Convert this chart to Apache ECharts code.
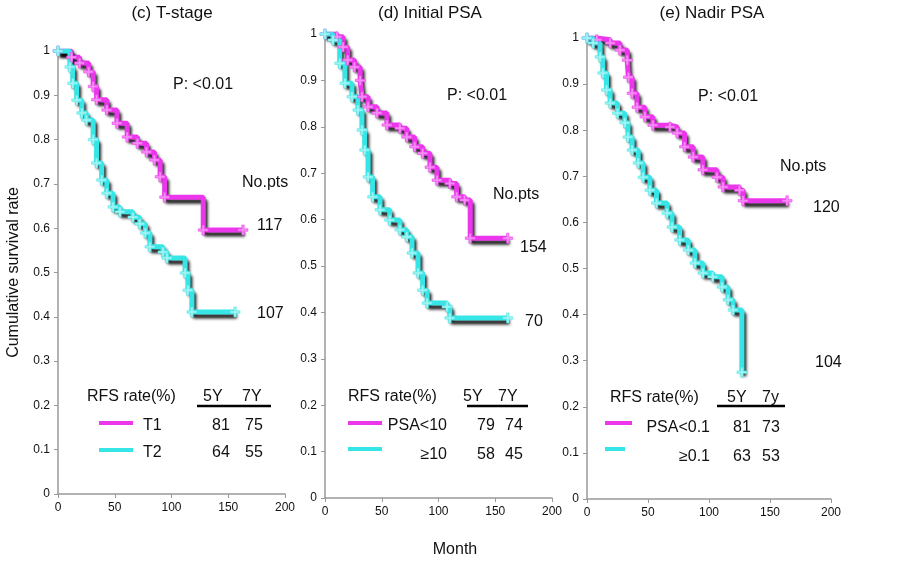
<!DOCTYPE html>
<html>
<head>
<meta charset="utf-8">
<script src="https://cdn.jsdelivr.net/npm/echarts@6/dist/echarts.min.js"></script>
<style>
  html, body { margin: 0; padding: 0; background: #fff; }
  #chart { width: 903px; height: 561px; }
</style>
</head>
<body>
<div id="chart"></div>
<script>
// Kaplan-Meier curves: [month, survival after event at that month]
var tStage1 = [[0,1],[12,0.986],[19,0.973],[27,0.953],[31,0.92],[34,0.89],[43,0.867],[52,0.837],[61,0.806],[70,0.792],[78,0.772],[85,0.754],[90,0.716],[94,0.67],[128,0.596],[163,0.596]];
var tStage2 = [[0,1],[10.5,0.964],[13,0.927],[16.5,0.889],[21,0.86],[25,0.844],[31,0.8],[34,0.747],[38.5,0.709],[43,0.679],[48.5,0.648],[54.6,0.637],[66,0.625],[72,0.61],[77,0.589],[81,0.558],[92.5,0.546],[96,0.533],[112,0.499],[114.5,0.46],[118,0.411],[156,0.411]];
var psaLow = [[0,1],[10.5,0.994],[16,0.972],[20,0.944],[26,0.929],[31,0.9],[32.6,0.865],[38,0.843],[45.8,0.83],[54.6,0.804],[66,0.797],[72,0.778],[79,0.757],[86,0.743],[92.5,0.713],[98.7,0.685],[110,0.678],[116,0.649],[123,0.642],[128,0.56],[161,0.56]];
var psaHigh = [[0,1],[7,0.987],[13,0.937],[17.6,0.894],[23.8,0.865],[29,0.836],[32.6,0.793],[35,0.75],[38,0.692],[42,0.649],[48.5,0.621],[57,0.599],[66,0.578],[72,0.563],[76.7,0.528],[82,0.485],[86,0.448],[90,0.42],[107.5,0.412],[110,0.388],[161,0.388]];
var nadirLow = [[0,1],[8,0.996],[19,0.989],[27,0.974],[33,0.952],[34,0.915],[37,0.88],[41,0.85],[47.5,0.829],[54,0.811],[68,0.807],[74,0.794],[80,0.764],[87,0.742],[95,0.714],[106.5,0.698],[111.5,0.677],[125,0.67],[128,0.647],[164,0.647]];
var nadirHigh = [[0,1],[5,0.989],[10.7,0.959],[13,0.924],[16,0.887],[19,0.859],[25,0.837],[31,0.816],[33.6,0.785],[37,0.757],[42,0.729],[46,0.698],[51.6,0.67],[57,0.642],[65.6,0.62],[69.7,0.59],[76,0.562],[83,0.54],[88.5,0.512],[95,0.49],[103,0.482],[110.7,0.46],[115.6,0.432],[119.7,0.41],[127,0.275]];

var panelTitles = ['(c) T-stage', '(d) Initial PSA', '(e) Nadir PSA'];
var groupLabels = [['T1', 'T2'], ['PSA<10', '≥10'], ['PSA<0.1', '≥0.1']];
var rates5y = [['81', '64'], ['79', '58'], ['81', '63']];
var rates7y = [['75', '55'], ['74', '45'], ['73', '53']];
var patientCounts = [['117', '107'], ['154', '70'], ['120', '104']];
var rateHeaders = [['5Y', '7Y'], ['5Y', '7Y'], ['5Y', '7y']];

var MAGENTA = '#ec36ec';
var CYAN = '#36e6e6';
var FONT = '"Liberation Sans", Arial, sans-serif';

var chart = echarts.init(document.getElementById('chart'));

var grids = [
    { left: 58, top: 51, width: 227, height: 443 },
    { left: 325, top: 34, width: 227, height: 464 },
    { left: 587, top: 38, width: 244, height: 461 }
];

function xAxisFor(i) {
    return {
        type: 'value', gridIndex: i, min: 0, max: 200, interval: 50,
        axisLine: { lineStyle: { color: '#999', width: 1.5 } },
        axisTick: { show: true, length: 4, lineStyle: { color: '#999' } },
        axisLabel: { color: '#111', fontSize: 12, fontFamily: FONT, margin: 8 },
        splitLine: { show: false }
    };
}
function yAxisFor(i) {
    var ax = {
        type: 'value', gridIndex: i, min: 0, max: 1, interval: 0.1,
        axisLine: { show: true, lineStyle: { color: '#999', width: 1.5 } },
        axisTick: { show: true, length: 4, lineStyle: { color: '#999' } },
        axisLabel: { color: '#111', fontSize: 12, fontFamily: FONT, margin: 8,
            formatter: function (v) { return String(Math.round(v * 10) / 10); } },
        splitLine: { show: false }
    };
    if (i === 0) {
        ax.name = 'Cumulative survival rate';
        ax.nameLocation = 'middle';
        ax.nameGap = 36;
        ax.nameTextStyle = { fontSize: 16, color: '#111', fontFamily: FONT };
    }
    return ax;
}

var plusPath = 'path://M3,0h2v3h3v2h-3v3h-2v-3h-3v-2h3z';
function kmSeries(data, i, color, light) {
    return {
        type: 'line', xAxisIndex: i, yAxisIndex: i, step: 'end', data: data,
        symbol: plusPath, symbolSize: 10, showSymbol: true,
        itemStyle: { color: light, borderColor: color, borderWidth: 0.5 },
        lineStyle: { color: color, width: 5, shadowColor: 'rgba(0,0,0,0.85)', shadowBlur: 3, shadowOffsetX: 2, shadowOffsetY: 4 },
        silent: true, animation: false
    };
}

var curves = [[tStage1, tStage2], [psaLow, psaHigh], [nadirLow, nadirHigh]];
var series = [];
curves.forEach(function (pair, i) {
    series.push(kmSeries(pair[0], i, MAGENTA, '#f58cf5'));
    series.push(kmSeries(pair[1], i, CYAN, '#9ef3f3'));
});

// annotation layout per panel
var layout = [
    { title: [172, 13], p: [173, 85], nopts: [242, 183], counts: [[257, 226], [257, 314]],
      rfs: [87, 397], hdr: [203, 242], rule: [197, 271, 406], swatch: [[99, 133, 423], [99, 133, 450]],
      labels: [[143, 426, 'left'], [143, 453, 'left']], rates: [212, 245, [426, 453]] },
    { title: [430, 13], p: [447, 96], nopts: [493, 195], counts: [[520, 248], [525, 322]],
      rfs: [348, 397], hdr: [463, 498], rule: [467, 528, 406], swatch: [[348, 382, 423], [348, 382, 449]],
      labels: [[447, 426, 'right'], [447, 455, 'right']], rates: [477, 505, [426, 455]] },
    { title: [712, 13], p: [698, 97], nopts: [780, 167], counts: [[813, 208], [815, 363]],
      rfs: [610, 398], hdr: [727, 762], rule: [717, 785, 406], swatch: [[605, 632, 423], [605, 625, 449]],
      labels: [[710, 428, 'right'], [710, 457, 'right']], rates: [733, 762, [428, 457]] }
];

function txt(x, y, s, size, align) {
    return { type: 'text', x: x, y: y, silent: true,
        style: { text: s, fill: '#111', font: size + 'px ' + FONT, textAlign: align || 'left', textVerticalAlign: 'middle' } };
}

var graphics = [];
layout.forEach(function (L, i) {
    graphics.push(txt(L.title[0], L.title[1], panelTitles[i], 17, 'center'));
    graphics.push(txt(L.p[0], L.p[1], 'P: <0.01', 16));
    graphics.push(txt(L.nopts[0], L.nopts[1], 'No.pts', 16));
    graphics.push(txt(L.counts[0][0], L.counts[0][1], patientCounts[i][0], 16));
    graphics.push(txt(L.counts[1][0], L.counts[1][1], patientCounts[i][1], 16));
    graphics.push(txt(L.rfs[0], L.rfs[1], 'RFS rate(%)', 16));
    graphics.push(txt(L.hdr[0], L.rfs[1], rateHeaders[i][0], 16));
    graphics.push(txt(L.hdr[1], L.rfs[1], rateHeaders[i][1], 16));
    graphics.push({ type: 'line', silent: true, shape: { x1: L.rule[0], y1: L.rule[2], x2: L.rule[1], y2: L.rule[2] },
        style: { stroke: '#000', lineWidth: 2.5 } });
    [MAGENTA, CYAN].forEach(function (c, k) {
        var sw = L.swatch[k];
        graphics.push({ type: 'line', silent: true, shape: { x1: sw[0], y1: sw[2], x2: sw[1], y2: sw[2] },
            style: { stroke: c, lineWidth: 4 } });
        var lb = L.labels[k];
        graphics.push(txt(lb[0], lb[1], groupLabels[i][k], 16, lb[2]));
        graphics.push(txt(L.rates[0], L.rates[2][k], rates5y[i][k], 16));
        graphics.push(txt(L.rates[1], L.rates[2][k], rates7y[i][k], 16));
    });
});
graphics.push(txt(455, 550, 'Month', 16, 'center'));

chart.setOption({
    backgroundColor: '#fff',
    animation: false,
    grid: grids,
    xAxis: [xAxisFor(0), xAxisFor(1), xAxisFor(2)],
    yAxis: [yAxisFor(0), yAxisFor(1), yAxisFor(2)],
    series: series,
    graphic: graphics
});
</script>
</body>
</html>
